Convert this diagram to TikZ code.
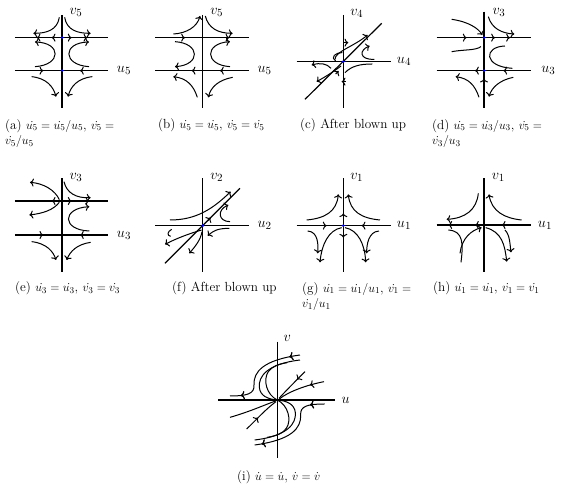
\documentclass[tikz,border=0pt]{standalone}
\usepackage{amsmath}
\usetikzlibrary{arrows.meta,decorations.markings}

\tikzset{
  axis/.style={line width=1.2pt},
  flow/.style={line width=1pt},
  midarr/.style 2 args={postaction={decorate},decoration={markings,mark=at position #1 with {\arrow{#2}}}},
  lbl/.style={font=\fontsize{15}{18}\selectfont,inner sep=0pt},
  subcap/.style={font=\fontsize{13.2}{15.5}\selectfont,align=left,inner sep=0pt},
}

\begin{document}
\begin{tikzpicture}[x=1pt,y=-1pt,>={To[length=3.8pt,width=8pt]}]
\useasboundingbox (0,0) rectangle (578,489);

% (a)
\begin{scope}[shift={(0,0)},x=0.3333pt,y=-0.3333pt]
\draw[axis] (186,45) -- (186,325);
\draw[axis] (45,113) -- (325,113);
\draw[axis] (45,212) -- (325,212);
\node[lbl] (va) at (228,38) {$v_5$};
\node[lbl] (ua) at (372,212) {$u_5$};
\draw[flow,->] (178,52) .. controls (172,90) and (140,100) .. (100,100);
\draw[flow,->] (194,52) .. controls (200,90) and (232,100) .. (272,100);
\draw[flow,->] (105,200) .. controls (185,195) and (185,128) .. (105,126);
\draw[flow,->] (267,200) .. controls (187,195) and (187,128) .. (267,126);
\draw[flow,->] (95,230) .. controls (140,235) and (160,260) .. (168,290);
\draw[flow,->] (277,230) .. controls (232,235) and (212,260) .. (204,290);
\foreach \x in {110,155} \draw[flow,->] (\x+12,113) -- (\x,113);
\foreach \x in {215,262} \draw[flow,->] (\x-12,113) -- (\x,113);
\draw[flow,->] (118,212) -- (130,212);
\draw[flow,->] (252,212) -- (240,212);
\fill[blue] (186,113) circle (1.5pt) (186,212) circle (1.5pt);
\end{scope}

% (b)
\begin{scope}[shift={(140,0)},x=0.3333pt,y=-0.3333pt]
\draw[axis] (188,45) -- (188,325);
\draw[axis] (45,113) -- (328,113);
\draw[axis] (45,212) -- (328,212);
\node[lbl] (vb) at (230,38) {$v_5$};
\node[lbl] (ub) at (374,212) {$u_5$};
\draw[flow,->] (100,102) .. controls (140,100) and (172,80) .. (180,48);
\draw[flow,->] (196,48) .. controls (205,85) and (235,100) .. (278,100);
\draw[flow,->] (105,125) .. controls (182,130) and (182,195) .. (105,200);
\draw[flow,->] (270,200) .. controls (193,195) and (193,130) .. (270,125);
\draw[flow,->] (172,292) .. controls (160,255) and (140,235) .. (100,230);
\draw[flow,->] (278,232) .. controls (235,240) and (212,262) .. (205,292);
\foreach \x in {135,268} \draw[flow,->] (\x-12,113) -- (\x,113);
\foreach \x in {155,240} \draw[flow,->] (\x+12,212) -- (\x,212);
\end{scope}

% (c)
\begin{scope}[shift={(285,0)},x=0.3333pt,y=-0.3333pt]
\draw[axis] (175,45) -- (175,325);
\draw[axis] (35,185) -- (318,185);
\draw[axis] (60,298) -- (290,70);
\node[lbl] (vc) at (215,40) {$v_4$};
\node[lbl] (uc) at (357,185) {$u_4$};
\draw[flow,->] (150,178) .. controls (150,155) and (205,140) .. (248,105);
\draw[flow,->] (268,178) .. controls (222,180) and (222,150) .. (254,138);
\draw[flow] (172,158) .. controls (150,158) and (136,172) .. (152,182);
\draw[flow] (262,192) .. controls (225,192) and (200,198) .. (180,218);
\draw[flow,->] (168,198) .. controls (150,212) and (125,228) .. (95,245);
\draw[flow,->] (138,205) .. controls (125,190) and (105,188) .. (80,195);
\draw[flow,->] (178,128) -- (190,128);
\draw[flow,->] (182,245) -- (170,245);
\draw[flow,->] (152,222) -- (161,213);
\fill[blue] (175,185) circle (1.5pt);
\end{scope}

% (d)
\begin{scope}[shift={(425,0)},x=0.3333pt,y=-0.3333pt]
\draw[axis] (177,35) -- (177,325);
\draw[axis] (35,113) -- (318,113);
\draw[axis] (35,212) -- (318,212);
\node[lbl] (vd) at (222,38) {$v_3$};
\node[lbl] (ud) at (370,212) {$u_3$};
\draw[flow,->] (80,58) .. controls (130,65) and (160,85) .. (172,105);
\draw[flow,->] (190,50) .. controls (200,85) and (230,100) .. (268,102);
\draw[flow] (80,155) .. controls (120,148) and (150,152) .. (168,140);
\draw[flow] (262,205) .. controls (175,200) and (175,140) .. (240,138);
\draw[flow,->] (162,292) .. controls (150,255) and (130,235) .. (92,230);
\draw[flow,->] (265,232) .. controls (225,240) and (200,262) .. (192,290);
\foreach \x in {125,210,255} \draw[flow,->] (\x-12,113) -- (\x,113);
\foreach \x in {150,235} \draw[flow,->] (\x+12,212) -- (\x,212);
\draw[flow,->] (177,248) -- (177,236);
\fill[blue] (177,113) circle (1.5pt) (177,212) circle (1.5pt);
\end{scope}

% (e)
\begin{scope}[shift={(0,165)},x=0.3333pt,y=-0.3333pt]
\draw[axis] (186,40) -- (186,320);
\draw[axis] (45,108) -- (325,108);
\draw[axis] (45,210) -- (325,210);
\node[lbl] (ve) at (228,36) {$v_3$};
\node[lbl] (ue) at (372,210) {$u_3$};
\draw[flow,->] (178,104) .. controls (165,75) and (130,55) .. (90,52);
\draw[flow,->] (192,50) .. controls (200,85) and (230,100) .. (272,98);
\draw[flow,->] (178,112) .. controls (160,135) and (130,145) .. (88,150);
\draw[flow,->] (268,198) .. controls (185,195) and (185,130) .. (268,125);
\draw[flow,->] (95,230) .. controls (140,235) and (160,260) .. (168,285);
\draw[flow,->] (272,232) .. controls (230,238) and (210,260) .. (200,285);
\draw[flow,->] (167,108) -- (155,108);
\foreach \x in {215,268} \draw[flow,->] (\x-12,108) -- (\x,108);
\draw[flow,->] (118,210) -- (130,210);
\draw[flow,->] (252,210) -- (240,210);
\end{scope}

% (f)
\begin{scope}[shift={(140,165)},x=0.3333pt,y=-0.3333pt]
\draw[axis] (188,40) -- (188,320);
\draw[axis] (45,182) -- (328,182);
\draw[axis] (75,295) -- (300,70);
\node[lbl] (vf) at (230,38) {$v_2$};
\node[lbl] (uf) at (374,182) {$u_2$};
\draw[flow,->] (90,165) .. controls (170,165) and (220,130) .. (272,80);
\draw[flow,->] (270,170) .. controls (235,170) and (230,135) .. (265,120);
\draw[flow,->] (268,190) .. controls (232,190) and (220,198) .. (203,212);
\draw[flow,->] (185,195) .. controls (150,205) and (110,220) .. (75,238);
\draw[flow,->] (186,200) .. controls (182,225) and (165,245) .. (148,265);
\draw[flow] (95,193) .. controls (82,200) and (80,212) .. (92,214);
\draw[flow,->] (202,168) -- (212,158);
\fill[blue] (188,182) circle (1.5pt);
\end{scope}

% (g)
\begin{scope}[shift={(285,165)},x=0.3333pt,y=-0.3333pt]
\draw[axis] (175,40) -- (175,320);
\draw[axis] (35,182) -- (318,182);
\node[lbl] (vg) at (215,38) {$v_1$};
\node[lbl] (ug) at (357,182) {$u_1$};
\draw[flow,->] (65,165) .. controls (120,160) and (155,140) .. (160,88);
\draw[flow,->] (285,165) .. controls (230,160) and (195,140) .. (190,88);
\draw[flow,->] (68,198) .. controls (100,200) and (100,240) .. (98,265);
\draw[flow,->] (170,188) .. controls (130,195) and (110,240) .. (105,292);
\draw[flow,->] (282,198) .. controls (250,200) and (245,240) .. (245,265);
\draw[flow,->] (180,188) .. controls (220,195) and (240,240) .. (242,292);
\draw[flow,->] (113,182) -- (125,182);
\draw[flow,->] (242,182) -- (230,182);
\draw[flow,->] (175,157) -- (175,145);
\draw[flow,->] (175,206) -- (175,218);
\fill[blue] (175,182) circle (1.5pt);
\end{scope}

% (h)
\begin{scope}[shift={(425,165)},x=0.3333pt,y=-0.3333pt]
\draw[axis] (177,40) -- (177,320);
\draw[axis] (35,180) -- (318,180);
\node[lbl] (vh) at (220,38) {$v_1$};
\node[lbl] (uh) at (360,180) {$u_1$};
\draw[flow,->] (160,85) .. controls (155,135) and (120,160) .. (65,163);
\draw[flow,->] (290,165) .. controls (240,160) and (200,140) .. (192,88);
\draw[flow,->] (105,265) .. controls (110,220) and (140,195) .. (170,188);
\draw[flow] (70,195) .. controls (115,198) and (115,235) .. (108,292);
\draw[flow,->] (182,188) .. controls (230,200) and (240,240) .. (245,290);
\draw[flow,->] (240,195) .. controls (255,210) and (255,240) .. (258,262);
\foreach \x in {70,150,230} \draw[flow,->] (\x+12,180) -- (\x,180);
\end{scope}

% (i)
\begin{scope}[shift={(200,330)},x=0.3333pt,y=-0.3333pt]
\draw[axis] (232,35) -- (232,385);
\draw[axis] (55,210) -- (405,210);
\node[lbl] (vi) at (262,26) {$v$};
\node[lbl] (ui) at (437,210) {$u$};
\foreach \a/\tip in {0/>,180/<} {
\begin{scope}[rotate around={\a:(232,210)}]
\draw[flow,midarr={0.12}{\tip},midarr={0.88}{\tip}] (300,75) .. controls (190,90) and (160,125) .. (162,165) .. controls (164,192) and (140,198) .. (90,198);
\draw[flow] (300,90) .. controls (200,102) and (175,140) .. (178,172) .. controls (180,198) and (205,208) .. (232,210);
\draw[flow] (232,210) .. controls (200,195) and (188,150) .. (205,125) .. controls (215,110) and (235,102) .. (262,98);
\end{scope}
}
\draw[flow,midarr={0.3}{>}] (315,125) .. controls (290,150) and (260,180) .. (237,205);
\draw[flow,midarr={0.3}{>}] (372,155) .. controls (320,165) and (265,185) .. (238,207);
\draw[flow] (90,262) .. controls (150,245) and (200,222) .. (227,213);
\draw[flow,midarr={0.4}{>}] (140,297) .. controls (170,268) and (200,235) .. (228,215);
\end{scope}

% captions
\node[subcap,anchor=north west] (capa) at (5,119) {(a) $\dot{u_5}=\dot{u_5}/u_5$, $\dot{v_5}=$\\$\dot{v_5}/u_5$};
\node[subcap,anchor=west] (capb) at (158,125) {(b) $\dot{u_5}=\dot{u_5}$, $\dot{v_5}=\dot{v_5}$};
\node[subcap,anchor=west] (capc) at (300,125) {(c) After blown up};
\node[subcap,anchor=north west] (capd) at (432,119) {(d) $\dot{u_5}=\dot{u_3}/u_3$, $\dot{v_5}=$\\$\dot{v_3}/u_3$};
\node[subcap,anchor=west] (cape) at (15,288) {(e) $\dot{u_3}=\dot{u_3}$, $\dot{v_3}=\dot{v_3}$};
\node[subcap,anchor=west] (capf) at (172,288) {(f) After blown up};
\node[subcap,anchor=north west] (capg) at (302,282) {(g) $\dot{u_1}=\dot{u_1}/u_1$, $\dot{v_1}=$\\$\dot{v_1}/u_1$};
\node[subcap,anchor=west] (caph) at (433,288) {(h) $\dot{u_1}=\dot{u_1}$, $\dot{v_1}=\dot{v_1}$};
\node[subcap,anchor=west] (capi) at (237,477) {(i) $\dot{u}=\dot{u}$, $\dot{v}=\dot{v}$};
\end{tikzpicture}
\end{document}
